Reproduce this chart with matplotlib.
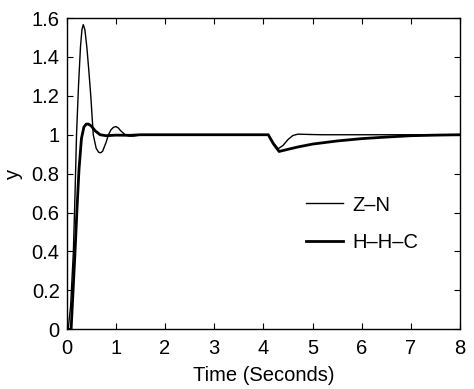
import numpy as np
import matplotlib
matplotlib.use('Agg')
import matplotlib.pyplot as plt

plt.rcParams['font.family'] = ['Liberation Sans', 'DejaVu Sans']

# Z-N response
t_zn = [0, 0.03, 0.08, 0.136, 0.17, 0.2, 0.24, 0.28, 0.31, 0.337, 0.37, 0.41, 0.45,
        0.49, 0.54, 0.6, 0.65, 0.69, 0.73, 0.8, 0.85, 0.9, 0.95, 1.0, 1.05, 1.1,
        1.19, 1.27, 1.35, 1.45, 1.6, 4.1, 4.2, 4.3, 4.4, 4.5, 4.6, 4.7, 4.85, 5.0,
        5.2, 8.0]
y_zn = [0, 0, 0.12, 0.4, 0.7, 1.0, 1.25, 1.45, 1.54, 1.566, 1.54, 1.45, 1.33,
        1.2, 1.0, 0.93, 0.91, 0.907, 0.915, 0.96, 1.0, 1.025, 1.038, 1.042, 1.035, 1.02,
        1.0, 0.993, 0.993, 0.997, 1.0, 1.0, 0.96, 0.928, 0.945, 0.975, 0.996, 1.003, 1.002, 1.001,
        1.0, 1.0]

# H-H-C response
t_hhc = [0, 0.09, 0.13, 0.17, 0.21, 0.25, 0.3, 0.35, 0.4, 0.44, 0.5, 0.58, 0.68, 0.8,
         1.0, 1.3, 1.5, 4.1, 4.2, 4.32, 4.5, 4.7, 5.0, 5.5, 6.0, 6.5, 7.0, 7.5, 8.0]
y_hhc = [0, 0, 0.2, 0.4, 0.62, 0.82, 0.98, 1.04, 1.055, 1.055, 1.045, 1.02, 1.0, 0.995,
         0.998, 0.997, 1.0, 1.0, 0.955, 0.914, 0.925, 0.937, 0.952, 0.968, 0.98, 0.988, 0.995, 0.998, 1.0]

fs = 14.5

fig = plt.figure(figsize=(4.74, 3.89), dpi=100)
ax = fig.add_axes([0.1407, 0.1535, 0.8298, 0.8002])

ax.plot(t_zn, y_zn, color='black', lw=1.0, label='Z\u2013N')
ax.plot(t_hhc, y_hhc, color='black', lw=2.0, label='H\u2013H\u2013C')

ax.set_xlim(0, 8)
ax.set_ylim(0, 1.6)
ax.set_xticks(np.arange(0, 9, 1))
ax.set_yticks(np.arange(0, 1.61, 0.2))
ax.set_yticklabels(['0', '0.2', '0.4', '0.6', '0.8', '1', '1.2', '1.4', '1.6'])
ax.tick_params(direction='in', top=True, right=True, length=4, labelsize=fs)
ax.tick_params(axis='x', pad=7)
ax.tick_params(axis='y', pad=5)
for s in ax.spines.values():
    s.set_linewidth(1.0)

ax.set_xlabel('Time (Seconds)', fontsize=fs, labelpad=6)
ax.set_ylabel('y', fontsize=fs, labelpad=6)

ax.legend(loc='upper left', bbox_to_anchor=(0.562, 0.488), frameon=False, fontsize=fs,
          handlelength=1.83, handletextpad=0.5, labelspacing=0.9)

fig.savefig('out.png', dpi=100)
